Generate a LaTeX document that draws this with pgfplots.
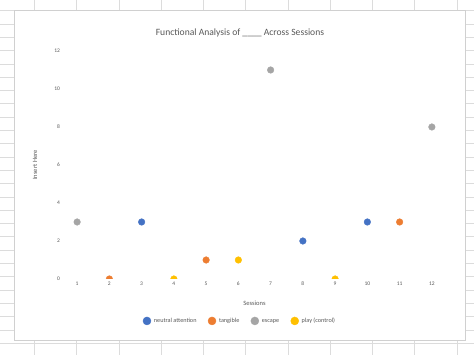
\documentclass[border=0pt]{standalone}
\usepackage{pgfplots}
\pgfplotsset{compat=1.18}
\usepackage{fontspec}
\setmainfont{Carlito}
\definecolor{xblue}{HTML}{4472C4}
\definecolor{xorange}{HTML}{ED7D31}
\definecolor{xgray}{HTML}{A5A5A5}
\definecolor{xgold}{HTML}{FFC000}
\definecolor{txt}{HTML}{595959}
\definecolor{cellline}{HTML}{DCDCDC}
\definecolor{chartborder}{HTML}{D0D0D0}
\begin{document}
\begin{tikzpicture}[x=1pt,y=1pt]
\useasboundingbox (0,0) rectangle (474,355);
\fill[white] (0,0) rectangle (474,355);
% spreadsheet cell grid (background)
\foreach \k in {0,...,10} {\draw[cellline,line width=0.6pt] ({34.3+42.25*\k},0) -- ({34.3+42.25*\k},355);}
\foreach \k in {0,...,26} {\draw[cellline,line width=0.6pt] (0,{355-(10.7+13.3*\k)}) -- (474,{355-(10.7+13.3*\k)});}
% chart area
\filldraw[fill=white,draw=chartborder,line width=0.8pt] (14.5,14.5) rectangle (465,344.5);
\begin{axis}[
  at={(61pt,76pt)}, anchor=south west,
  scale only axis, width=387pt, height=228pt,
  xmin=0.5, xmax=12.5, ymin=0, ymax=12,
  xtick={1,...,12}, ytick={0,2,...,12},
  axis line style={draw=none}, tick style={draw=none},
  clip marker paths=true,
  /pgf/number format/assume math mode=true,
  tick label style={font=\fontsize{5.5}{6}\selectfont, text=txt},
  yticklabel style={xshift=2.5pt},
  xticklabel style={yshift=1pt},
  title={Functional Analysis of \_\_\_\_ Across Sessions},
  every axis title/.style={at={(axis description cs:0.4625,1.079)}, anchor=center, font=\fontsize{9.6}{11}\selectfont, text=txt},
  xlabel={Sessions},
  every axis x label/.style={at={(axis description cs:0.5,-0.105)}, anchor=center, font=\fontsize{6.5}{7}\selectfont, text=txt},
  ylabel={Insert Here},
  every axis y label/.style={at={(axis description cs:-0.0672,0.5)}, anchor=center, rotate=90, font=\fontsize{6.5}{7}\selectfont, text=txt},
  legend columns=4,
  legend style={at={(axis description cs:0.462,-0.184)}, anchor=center, draw=none, fill=none,
    font=\fontsize{6.2}{7}\selectfont, text=txt,
    /tikz/every even column/.append style={column sep=9pt}},
  legend image code/.code={\path[draw=none,fill=none] (-4.5pt,-1pt) rectangle (5pt,1pt); \draw[only marks, mark size=4pt] plot coordinates {(0pt,0pt)};},
  every axis plot/.append style={only marks, mark=*, mark size=3.3pt},
]
\addplot[xblue, mark options={fill=xblue, draw=xblue}] coordinates {(3,3) (8,2) (10,3)};
\addlegendentry{neutral attention\strut}
\addplot[xorange, mark options={fill=xorange, draw=xorange}] coordinates {(2,0) (5,1) (11,3)};
\addlegendentry{tangible\strut}
\addplot[xgray, mark options={fill=xgray, draw=xgray}] coordinates {(1,3) (7,11) (12,8)};
\addlegendentry{escape\strut}
\addplot[xgold, mark options={fill=xgold, draw=xgold}] coordinates {(4,0) (6,1) (9,0)};
\addlegendentry{play (control)\strut}
\end{axis}
\end{tikzpicture}
\end{document}
